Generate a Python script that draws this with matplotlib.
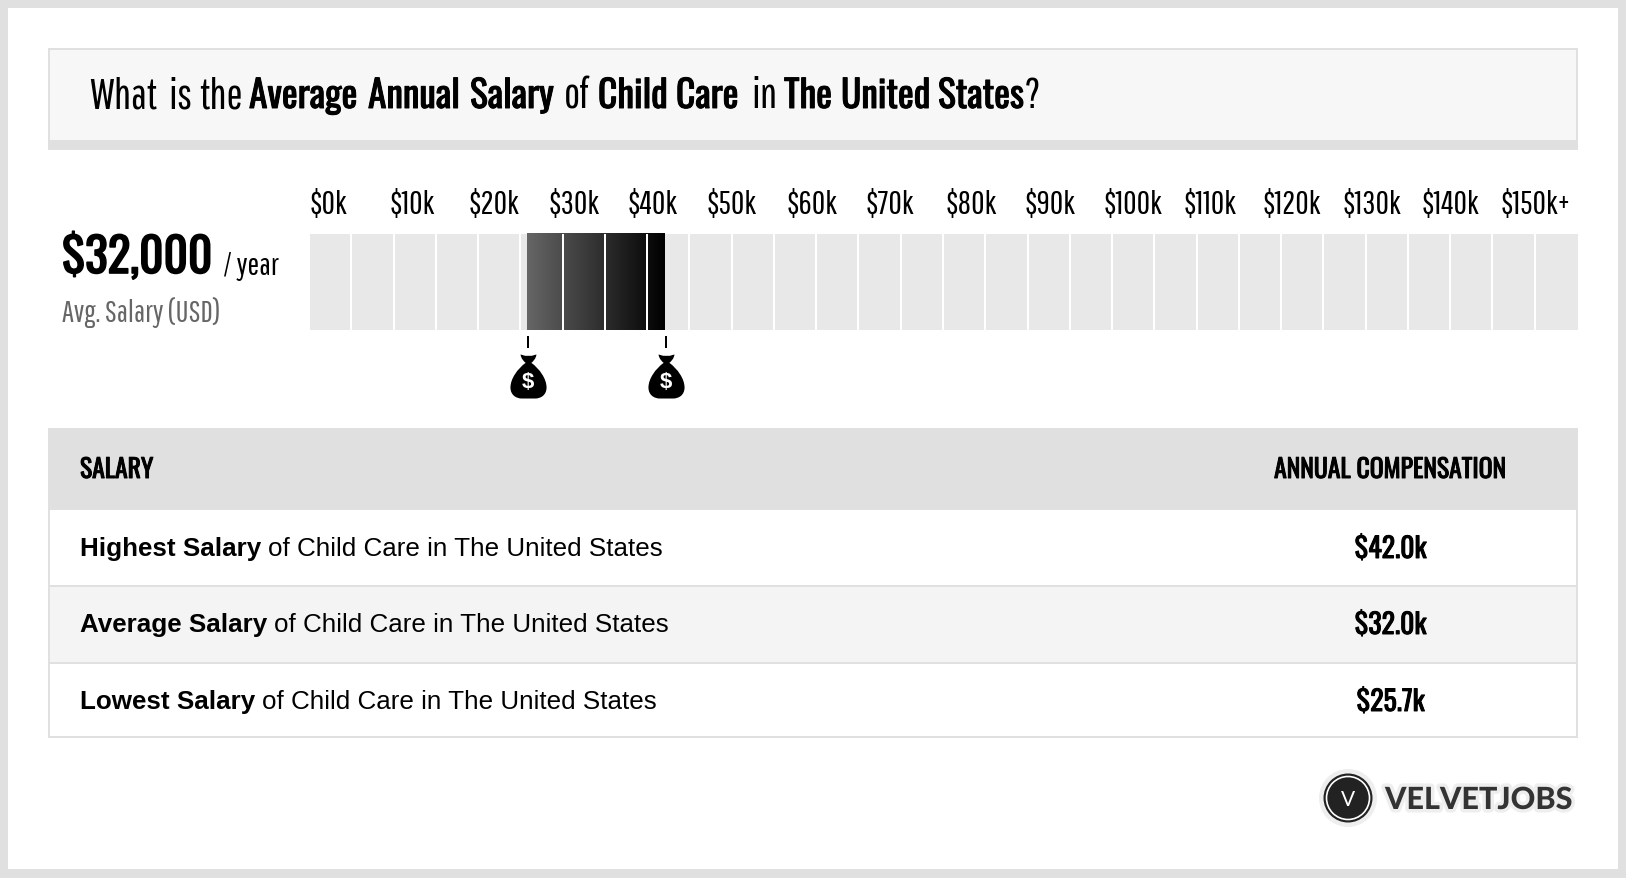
import numpy as np
import matplotlib
matplotlib.use('Agg')
import matplotlib.pyplot as plt
import matplotlib.patheffects as pe
from matplotlib.colors import LinearSegmentedColormap
from matplotlib.patches import Rectangle, Circle
from matplotlib.path import Path

W, H = 1626, 878

# values
low_salary = 25700
avg_salary = 32000
high_salary = 42000
bar_max = 150000
cell_step = 5000
tick_labels = ['$0k', '$10k', '$20k', '$30k', '$40k', '$50k', '$60k', '$70k',
               '$80k', '$90k', '$100k', '$110k', '$120k', '$130k', '$140k', '$150k+']
row_bold = ['Highest Salary', 'Average Salary', 'Lowest Salary']
row_rest = 'of Child Care in The United States'
row_values = ['$42.0k', '$32.0k', '$25.7k']

NARROW = ['Pathway Gothic One', 'Sofia Sans Extra Condensed', 'Roboto Condensed', 'DejaVu Sans']
HEAVY = ['Oswald', 'Roboto Condensed', 'DejaVu Sans']
ARIAL = ['Liberation Sans', 'DejaVu Sans']
LINE = '#e0e0e0'
THICK = [pe.withStroke(linewidth=0.7, foreground='black')]

fig = plt.figure(figsize=((W + 0.01) / 100, (H + 0.01) / 100), dpi=100, facecolor=LINE)

# whole canvas in pixels
ax = fig.add_axes([0, 0, 1, 1])
ax.set_xlim(0, W)
ax.set_ylim(H, 0)
ax.axis('off')


def box(x0, y0, x1, y1, color, z=1):
    ax.add_patch(Rectangle((x0, y0), x1 - x0, y1 - y0, fc=color, ec='none', zorder=z))


box(8, 8, 1618, 869, 'white')

# title box
box(48, 48, 1578, 150, LINE, 2)
box(50, 50, 1576, 140, '#f7f7f7', 3)
title_parts = [(89, 'What', 0), (168, 'is', 0), (199, 'the', 0),
               (249, 'Average', 1), (368, 'Annual', 1), (470, 'Salary', 1),
               (564, 'of', 0), (598, 'Child', 1), (676, 'Care', 1),
               (751, 'in', 0), (784, 'The', 1), (841, 'United', 1), (938, 'States', 1),
               (1025, '?', 0)]
for x, word, bold in title_parts:
    if bold:
        ax.text(x, 108, word, family=HEAVY, fontsize=27, va='baseline', zorder=5, path_effects=THICK)
    else:
        ax.text(x, 108, word, family=NARROW, fontsize=31, va='baseline', zorder=5)

# big number on the left
ax.text(62, 273, f'${avg_salary:,}', family=HEAVY, fontsize=34, va='baseline', zorder=5,
        path_effects=[pe.withStroke(linewidth=1.2, foreground='black')])
ax.text(223, 275, '/ year', family=NARROW, fontsize=22.5, va='baseline', zorder=5)
ax.text(62, 322, 'Avg. Salary (USD)', family=NARROW, fontsize=21.8, color='#666666', va='baseline', zorder=5)

# tick labels are spread evenly over the bar width
for i, label in enumerate(tick_labels):
    ax.text(310 + i * 79.4, 214, label, family=NARROW, fontsize=23.5, va='baseline', zorder=5)

# table
box(48, 428, 1578, 738, LINE, 2)
box(48, 428, 1578, 510, LINE, 3)
row_tops = [510, 587, 664]
row_bottoms = [585, 662, 736]
row_colors = ['white', '#f4f4f4', 'white']
rest_x = [268, 274, 262]
text_base = [556, 632, 709]
value_base = [558, 634, 711]
for i in range(3):
    box(50, row_tops[i], 1576, row_bottoms[i], row_colors[i], 3)
    ax.text(80, text_base[i], row_bold[i], family=ARIAL, weight='bold', fontsize=18.75, va='baseline', zorder=5)
    ax.text(rest_x[i], text_base[i], row_rest, family=ARIAL, fontsize=18.75, va='baseline', zorder=5)
    ax.text(1390.5, value_base[i], row_values[i], family=HEAVY, fontsize=20, ha='center', va='baseline',
            zorder=5, path_effects=THICK)
ax.text(80, 478, 'SALARY', family=HEAVY, fontsize=18.5, va='baseline', zorder=5, path_effects=THICK)
ax.text(1390, 478, 'ANNUAL COMPENSATION', family=HEAVY, fontsize=18.5, ha='center', va='baseline',
        zorder=5, path_effects=THICK)

# logo
ax.add_patch(Circle((1348, 798), 29, fc='#eeeeee', ec='none', zorder=3))
ax.add_patch(Circle((1348, 798), 24.5, fc='#222222', ec='none', zorder=4))
ax.add_patch(Circle((1348, 798), 21.5, fc='none', ec='white', lw=1.2, zorder=5))
ax.text(1348, 798, 'V', family=['Lato', 'DejaVu Sans'], fontsize=15, color='white',
        ha='center', va='center_baseline', zorder=6)
ax.text(1385, 809, 'VELVETJOBS', family=['Lato', 'DejaVu Sans'], weight='black', fontsize=22, color='#333333',
        va='baseline', zorder=6, path_effects=[pe.withStroke(linewidth=5, foreground='#eeeeee')])

# salary bar, x in dollars, y stays in canvas pixels
bar_ax = fig.add_axes([310 / W, 0, 1268 / W, 1])
bar_ax.patch.set_alpha(0)
bar_ax.axis('off')
edges = np.arange(0, bar_max, cell_step)
bar_ax.bar(edges, 96, bottom=234, width=cell_step, align='edge', color='#e8e8e8', linewidth=0)
gray_fade = LinearSegmentedColormap.from_list('fade', ['#666666', '#000000'])
bar_ax.imshow(np.linspace(0, 1, 256).reshape(1, -1), cmap=gray_fade, aspect='auto',
              extent=(low_salary, high_salary, 330, 234), zorder=2)
bar_ax.vlines(edges[1:] - 118, 234, 330, color='white', linewidth=1.44, zorder=3)
bar_ax.set_xlim(0, bar_max)
bar_ax.set_ylim(H, 0)

# money bags
bag_verts = [(-0.36, 1.0), (-0.15, 0.94), (0.15, 0.94), (0.36, 1.0),
             (0.34, 0.8), (0.2, 0.68), (0.13, 0.62),
             (0.5, 0.35), (0.82, -0.1), (0.82, -0.5),
             (0.82, -0.85), (0.55, -1.0), (0.3, -1.0),
             (-0.3, -1.0), (-0.55, -1.0), (-0.82, -0.85), (-0.82, -0.5),
             (-0.82, -0.1), (-0.5, 0.35), (-0.13, 0.62),
             (-0.2, 0.68), (-0.34, 0.8), (-0.36, 1.0), (-0.36, 1.0)]
bag_codes = [Path.MOVETO, Path.LINETO, Path.LINETO, Path.LINETO,
             Path.CURVE4, Path.CURVE4, Path.CURVE4,
             Path.CURVE4, Path.CURVE4, Path.CURVE4,
             Path.CURVE4, Path.CURVE4, Path.CURVE4,
             Path.LINETO, Path.CURVE4, Path.CURVE4, Path.CURVE4,
             Path.CURVE4, Path.CURVE4, Path.CURVE4,
             Path.CURVE4, Path.CURVE4, Path.CURVE4, Path.CLOSEPOLY]
bag = Path(bag_verts, bag_codes)
for salary in [low_salary, high_salary]:
    bar_ax.vlines(salary + 80, 336, 348, color='black', linewidth=1.44, zorder=4)
    bar_ax.plot([salary + 130], [376], marker=bag, markersize=31.7, color='black',
                markeredgewidth=0, linestyle='none', zorder=4, clip_on=False)
    bar_ax.text(salary + 130, 382, '$', family=ARIAL, weight='bold', fontsize=16, color='white',
                ha='center', va='center', zorder=5)

fig.savefig('out.png', dpi=100, facecolor=LINE)
